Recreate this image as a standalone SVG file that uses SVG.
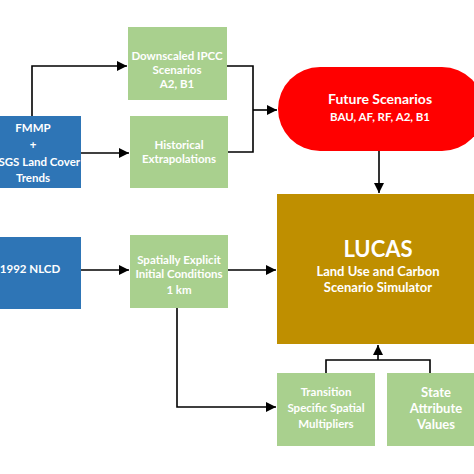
<svg xmlns="http://www.w3.org/2000/svg" width="474" height="474" viewBox="0 0 474 474">
<defs>
<marker id="ah" viewBox="0 0 10 10" refX="10" refY="5" markerWidth="10" markerHeight="10" markerUnits="userSpaceOnUse" orient="auto">
<path d="M0,0 L10,5 L0,10 z" fill="#000"/>
</marker>
</defs>
<style>
text{font-family:Lato,"Open Sans","Liberation Sans",sans-serif;font-weight:bold;fill:#fff;text-anchor:middle}
.g{fill:#a9d08e}
.b{fill:#2e75b6}
.t{font-size:11.5px}
.c{fill:none;stroke:#000;stroke-width:1.6}
</style>
<rect width="474" height="474" fill="#fff"/>
<g id="connectors">
<path class="c" d="M32,116 V66 H127" marker-end="url(#ah)"/>
<path class="c" d="M81,153 H129" marker-end="url(#ah)"/>
<path class="c" d="M227,66 H253 V152 H228"/>
<path class="c" d="M253,110 H277" marker-end="url(#ah)"/>
<path class="c" d="M379,151 V193" marker-end="url(#ah)"/>
<path class="c" d="M81,270 H129" marker-end="url(#ah)"/>
<path class="c" d="M228,270 H276" marker-end="url(#ah)"/>
<path class="c" d="M177,308 V407 H276" marker-end="url(#ah)"/>
<path class="c" d="M326,373 V360 H430 V373"/>
<path class="c" d="M378,360 V345" marker-end="url(#ah)"/>
</g>
<g id="fmmp">
<rect class="b" x="-17" y="116" width="98" height="72"/>
<text class="t" x="33" y="132">FMMP</text>
<text class="t" x="33" y="149">+</text>
<text class="t" x="35" y="166">USGS Land Cover</text>
<text class="t" x="33" y="182">Trends</text>
</g>
<g id="nlcd">
<rect class="b" x="-17" y="237" width="98" height="72"/>
<text class="t" x="30" y="273">1992 NLCD</text>
</g>
<g id="ipcc">
<rect class="g" x="128" y="27" width="99" height="73"/>
<text class="t" x="177" y="60">Downscaled IPCC</text>
<text class="t" x="177" y="74">Scenarios</text>
<text class="t" x="177" y="88">A2, B1</text>
</g>
<g id="historical">
<rect class="g" x="130" y="116" width="98" height="72"/>
<text class="t" x="179" y="149">Historical</text>
<text class="t" x="179" y="163">Extrapolations</text>
</g>
<g id="spatial">
<rect class="g" x="130" y="235" width="98" height="73"/>
<text class="t" x="179" y="264">Spatially Explicit</text>
<text class="t" x="179" y="278">Initial Conditions</text>
<text class="t" x="179" y="294">1 km</text>
</g>
<g id="future">
<rect x="278" y="67" width="206" height="84" rx="42" fill="#ff0000"/>
<text x="380" y="104" font-size="14">Future Scenarios</text>
<text x="380" y="121" font-size="11.5">BAU, AF, RF, A2, B1</text>
</g>
<g id="lucas">
<rect x="277" y="194" width="203" height="150" fill="#bf8f00"/>
<text x="378" y="257" font-size="22">LUCAS</text>
<text x="378" y="276" font-size="13">Land Use and Carbon</text>
<text x="378" y="292" font-size="13">Scenario Simulator</text>
</g>
<g id="transition">
<rect class="g" x="277" y="373" width="98" height="73"/>
<text class="t" x="326" y="396">Transition</text>
<text class="t" x="326" y="412">Specific Spatial</text>
<text class="t" x="326" y="428">Multipliers</text>
</g>
<g id="state">
<rect class="g" x="387" y="373" width="98" height="73"/>
<text x="436" y="397" font-size="13">State</text>
<text x="436" y="413" font-size="13">Attribute</text>
<text x="436" y="429" font-size="13">Values</text>
</g>
</svg>
